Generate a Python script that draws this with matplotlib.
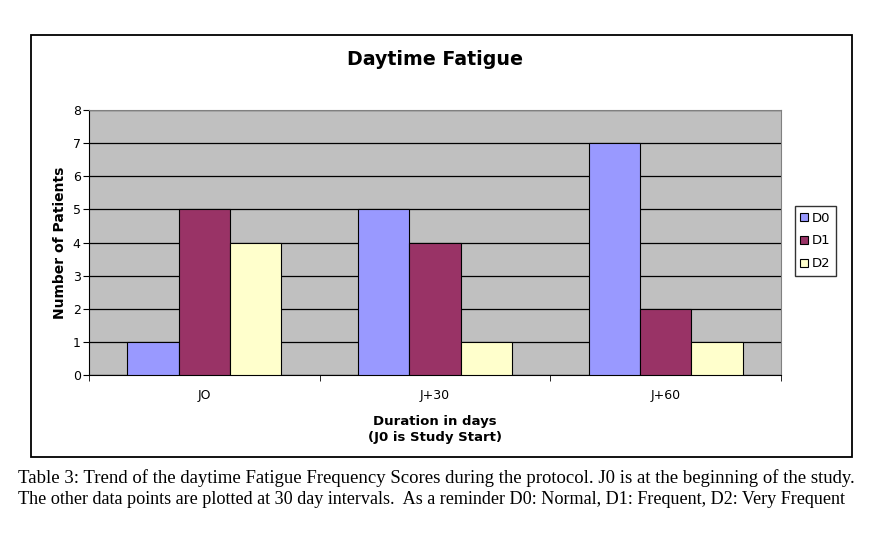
import matplotlib.pyplot as plt
import numpy as np
from matplotlib.patches import Rectangle, Patch

categories = ['JO', 'J+30', 'J+60']
series = ['D0', 'D1', 'D2']
d0 = [1, 5, 7]
d1 = [5, 4, 2]
d2 = [4, 1, 1]
colors = ['#9999FF', '#993366', '#FFFFCC']

W, H = 877, 543
fig = plt.figure(figsize=(W / 100, H / 100), dpi=100)

# outer chart border
fig.patches.append(Rectangle((31 / W, 1 - 457 / H), (852 - 31) / W, (457 - 35) / H,
                             transform=fig.transFigure, fill=False,
                             edgecolor='black', linewidth=1.3))

ax = fig.add_axes([89 / W, 1 - 375 / H, (781 - 89) / W, (375 - 110) / H])
ax.set_facecolor('#C0C0C0')

x = np.arange(len(categories))
bw = 1 / 4.5
for i, vals in enumerate([d0, d1, d2]):
    ax.bar(x + (i - 1) * bw, vals, bw, color=colors[i], edgecolor='black',
           linewidth=0.8, zorder=3)

ax.set_xlim(-0.5, 2.5)
ax.set_ylim(0, 8)
ax.set_yticks(range(0, 9))
ax.yaxis.grid(True, color='black', linewidth=0.9, zorder=1)
ax.set_axisbelow(True)

ax.set_xticks(x)
ax.set_xticklabels(categories, fontsize=9)
ax.tick_params(axis='x', which='major', length=0, pad=10)
ax.set_xticks([-0.5, 0.5, 1.5, 2.5], minor=True)
ax.tick_params(axis='x', which='minor', length=4, direction='out')
ax.tick_params(axis='y', labelsize=9, length=4, direction='out', pad=2)

for s in ['top', 'right']:
    ax.spines[s].set_color('#808080')
for s in ['left', 'bottom']:
    ax.spines[s].set_color('black')

ax.set_ylabel('Number of Patients', fontsize=10, fontweight='bold', labelpad=4)
fig.text(0.496, 1 - 430 / H, 'Duration in days\n(J0 is Study Start)', ha='center',
         va='center', fontsize=9.5, fontweight='bold', linespacing=1.3)
fig.text(0.496, 1 - 60 / H, 'Daytime Fatigue', ha='center', va='center',
         fontsize=13.7, fontweight='bold')

handles = [Patch(facecolor=c, edgecolor='black', linewidth=0.8) for c in colors]
fig.legend(handles, series, loc='center left', bbox_to_anchor=(795 / W, 1 - 241 / H),
           fontsize=9.5, frameon=True, fancybox=False, edgecolor='black',
           handlelength=0.6, handleheight=0.6, handletextpad=0.3,
           borderpad=0.4, labelspacing=0.75, borderaxespad=0)

caption1 = ('Table 3: Trend of the daytime Fatigue Frequency Scores during the protocol. '
            'J0 is at the beginning of the study.')
caption2 = ('The other data points are plotted at 30 day intervals.  As a reminder '
            'D0: Normal, D1: Frequent, D2: Very Frequent')
fig.text(18 / W, 1 - 478 / H, caption1, ha='left', va='center', fontsize=13.5,
         family='Liberation Serif')
fig.text(18 / W, 1 - 500 / H, caption2, ha='left', va='center', fontsize=13.1,
         family='Liberation Serif')

fig.savefig('out.png', dpi=100)
